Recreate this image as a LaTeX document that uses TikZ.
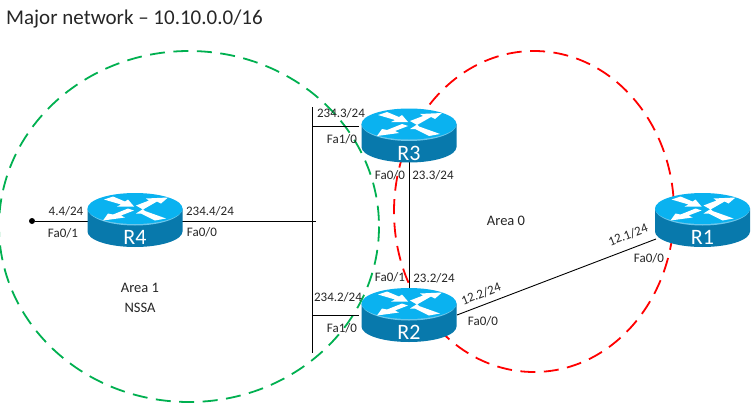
\documentclass[tikz,border=0pt]{standalone}
\usepackage{fontspec}
\setmainfont{Carlito}
\definecolor{rtop}{HTML}{0AB2F0}
\definecolor{rbody}{HTML}{0879AC}
\definecolor{rrim}{HTML}{6CC6EA}
\definecolor{areagreen}{HTML}{00B050}
\definecolor{areared}{HTML}{FF0000}
\newcommand{\routerpic}[3]{%
 \begin{scope}[shift={(#1,#2)}]
  \fill[rbody] (-47.5,0) -- (-47.5,23) arc[start angle=180,end angle=0,x radius=47.5,y radius=15.5] -- (47.5,0) -- cycle;
  \fill[rrim] (-47.5,0) arc[start angle=180,end angle=0,x radius=47.5,y radius=17] -- cycle;
  \fill[rtop] (0,0) ellipse[x radius=47.5,y radius=15.5];
  \fill[white] (-31,-9) -- (-22,-12) -- (-10,-7) -- (-7,-9) -- (-1,-2) -- (-18,-2) -- (-14,-4) -- cycle;
  \fill[white] (1,-3) -- (14,-8) -- (11,-10) -- (33,-11) -- (26,-5) -- (22,-7) -- (8,1) -- cycle;
  \fill[white] (-1,2) -- (-14,7) -- (-10,9) -- (-32,12) -- (-27,5) -- (-22,6) -- (-7,0) -- cycle;
  \fill[white] (1,5) -- (8,0.5) -- (10,2.5) -- (31,10) -- (20,12) -- (6,5) -- cycle;
  \node[rname] (#3) at (0,29) {#3};
 \end{scope}}
\tikzset{
 rname/.style={text=white,font=\fontsize{22}{22}\selectfont,inner sep=0pt},
 lbl/.style={font=\fontsize{13}{14}\selectfont,inner sep=0pt,text=black!85},
 area/.style={font=\fontsize{14.5}{20}\selectfont,inner sep=0pt,align=center,text=black!85},
 wire/.style={draw=black,line width=0.9pt},
 greenring/.style={draw=areagreen,line width=1.8pt,dash pattern=on 15pt off 8.5pt},
 redring/.style={draw=areared,line width=1.8pt,dash pattern=on 15pt off 8.5pt},
}
\begin{document}
\begin{tikzpicture}[x=1pt,y=-1pt]
\useasboundingbox (0,0) rectangle (751,404);
\fill[white] (0,0) rectangle (751,404);
\node[font=\fontsize{21}{23}\selectfont,anchor=west,inner sep=0pt,text=black!85] (title) at (6,19) {Major network – 10.10.0.0/16};
% rings
\draw[greenring] (189,226.5) ellipse[x radius=190,y radius=175.5];
\draw[redring] (534,211.5) ellipse[x radius=140,y radius=160.5];
% bus
\coordinate (bt) at (312,107);
\coordinate (bb) at (312,353);
\coordinate (b3) at (312,126);
\coordinate (b2) at (312,315);
\coordinate (b4) at (316,221);
\coordinate (h4) at (88,221);
\coordinate (h4r) at (182,221);
\coordinate (h3l) at (359,126);
\coordinate (h2l) at (359,315);
\coordinate (h3b) at (409,162);
\coordinate (h2t) at (409,288);
\coordinate (h2r) at (457,315);
\coordinate (h1l) at (656,239);
\draw[wire] (bt) -- (bb);
\draw[wire] (b3) -- (h3l);
\draw[wire] (b2) -- (h2l);
\draw[wire] (h4r) -- (b4);
\draw[wire] (h3b) -- (h2t);
\draw[wire] (h2r) -- (h1l);
\node[circle,fill=black,inner sep=0pt,minimum size=6pt] (lan) at (32,221) {};
\draw[wire] (lan) -- (h4);
% routers
\routerpic{135}{208.5}{R4}
\routerpic{409}{124}{R3}
\routerpic{409}{303.5}{R2}
\routerpic{702.5}{208.5}{R1}
% labels
\node[lbl] (l1) at (66,211) {4.4/24};
\node[lbl] (l2) at (63,233) {Fa0/1};
\node[lbl] (l3) at (210,211) {234.4/24};
\node[lbl] (l4) at (202,232) {Fa0/0};
\node[lbl] (l5) at (341,113) {234.3/24};
\node[lbl] (l6) at (342,139) {Fa1/0};
\node[lbl] (l7) at (390,175) {Fa0/0};
\node[lbl] (l8) at (433,175) {23.3/24};
\node[lbl] (l9) at (390,277) {Fa0/1};
\node[lbl] (l10) at (434,278) {23.2/24};
\node[lbl] (l11) at (338,297) {234.2/24};
\node[lbl] (l12) at (342,328) {Fa1/0};
\node[lbl,rotate=21] (l13) at (481,294) {12.2/24};
\node[lbl] (l14) at (483,321) {Fa0/0};
\node[lbl,rotate=21] (l15) at (628,235) {12.1/24};
\node[lbl] (l16) at (649,258) {Fa0/0};
\node[area] (a0) at (506,221) {Area 0};
\node[area] (a1) at (140,298) {Area 1\\NSSA};
\end{tikzpicture}
\end{document}
